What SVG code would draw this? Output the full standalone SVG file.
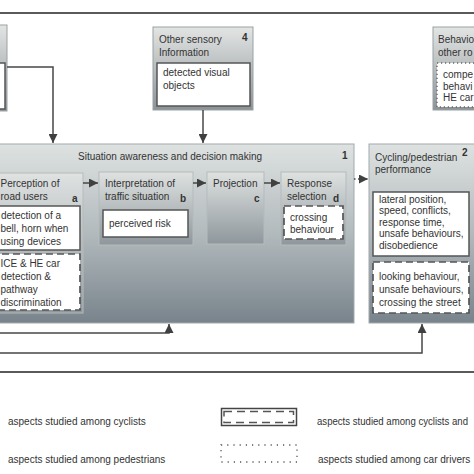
<svg xmlns="http://www.w3.org/2000/svg" width="474" height="474" viewBox="0 0 474 474">
<defs>
<linearGradient id="gBig" x1="0" y1="0" x2="0" y2="1"><stop offset="0" stop-color="#dee2e1"/><stop offset="0.5" stop-color="#b2babd"/><stop offset="1" stop-color="#78838b"/></linearGradient>
<linearGradient id="gSub" x1="0" y1="0" x2="0" y2="1"><stop offset="0" stop-color="#dfe2e1"/><stop offset="1" stop-color="#8e979c"/></linearGradient>
<linearGradient id="gTop" x1="0" y1="0" x2="0" y2="1"><stop offset="0" stop-color="#e3e5e4"/><stop offset="1" stop-color="#8b9397"/></linearGradient>
<marker id="ah" markerUnits="userSpaceOnUse" markerWidth="10" markerHeight="9" refX="9" refY="4.5" orient="auto"><path d="M0,0 L9,4.5 L0,9 z" fill="#404040"/></marker>
</defs>
<style>
text{font-family:"Liberation Sans",Arial,sans-serif;font-size:10px;fill:#333}
.num{font-weight:bold}
.big{fill:url(#gBig);stroke:#a3aaad;stroke-width:1}
.sub{fill:url(#gSub);stroke:#b5bbbc;stroke-width:1}
.top{fill:url(#gTop);stroke:#9aa1a4;stroke-width:1}
.wb{fill:#fff;stroke:#555;stroke-width:1.5}
.db{fill:#fff;stroke:#555;stroke-width:1.7;stroke-dasharray:7 4}
.ob{fill:#fff;stroke:#666;stroke-width:1.4;stroke-dasharray:1.2 2.8}
.lob{fill:none;stroke:#555;stroke-width:1.3;stroke-dasharray:1.2 5}
.con{fill:none;stroke:#474747;stroke-width:1.5}
.rule{stroke:#5a5a5a;stroke-width:2}
</style>
<rect width="474" height="474" fill="#fff"/>
<g id="frame">
<line class="rule" x1="0" y1="13" x2="474" y2="13"/>
<line class="rule" x1="0" y1="372" x2="474" y2="372"/>
</g>
<g id="node-left-top">
<rect class="top" x="-20" y="25" width="27" height="86"/>
<rect class="wb" x="-20" y="63" width="25" height="46"/>
</g>
<g id="node-4">
<rect class="top" x="153" y="27" width="100" height="83"/>
<text x="159" y="43">Other sensory</text>
<text x="159" y="55.5">Information</text>
<text class="num" x="242" y="41">4</text>
<rect class="wb" x="157" y="63" width="93" height="43"/>
<text x="163" y="76">detected visual</text>
<text x="163" y="89">objects</text>
</g>
<g id="node-right-top">
<rect class="top" x="433" y="27" width="60" height="83"/>
<text x="438" y="43">Behavio</text>
<text x="438" y="55.5">other ro</text>
<rect class="ob" x="437" y="63" width="50" height="44"/>
<text x="443" y="78">compe</text>
<text x="443" y="89.5">behavi</text>
<text x="443" y="101">HE car</text>
</g>
<g id="node-1">
<rect class="big" x="-20" y="144" width="374" height="179"/>
<text x="78" y="160">Situation awareness and decision making</text>
<text class="num" x="342" y="159">1</text>
</g>
<g id="node-a">
<rect class="sub" x="-20" y="173" width="103" height="140"/>
<text x="0.5" y="186.5">Perception of</text>
<text x="0.5" y="199.5">road users</text>
<text class="num" x="72" y="202">a</text>
<rect class="wb" x="-20" y="206" width="100" height="44"/>
<text x="1" y="218.5">detection of a</text>
<text x="0.5" y="231.5">bell, horn when</text>
<text x="0.5" y="244.5">using devices</text>
<rect class="db" x="-20" y="254" width="100" height="56"/>
<text x="0.5" y="266.5">ICE &amp; HE car</text>
<text x="1" y="279.5">detection &amp;</text>
<text x="0.5" y="292.5">pathway</text>
<text x="0.5" y="305.5">discrimination</text>
</g>
<g id="node-b">
<rect class="sub" x="99" y="172" width="94" height="73"/>
<text x="105" y="186.5">Interpretation of</text>
<text x="105" y="199.5">traffic situation</text>
<text class="num" x="180" y="202">b</text>
<rect class="wb" x="103" y="210" width="85" height="27"/>
<text x="109" y="226.5">perceived risk</text>
</g>
<g id="node-c">
<rect class="sub" x="207" y="172" width="57" height="72"/>
<text x="213" y="186.5">Projection</text>
<text class="num" x="254" y="202">c</text>
</g>
<g id="node-d">
<rect class="sub" x="281" y="172" width="65" height="73"/>
<text x="287" y="186.5">Response</text>
<text x="287" y="199.5">selection</text>
<text class="num" x="333" y="202">d</text>
<rect class="db" x="284" y="206" width="59" height="33"/>
<text x="290" y="220.5">crossing</text>
<text x="290" y="232.5">behaviour</text>
</g>
<g id="node-2">
<rect class="big" x="369" y="144" width="115" height="179"/>
<text x="375" y="160.5">Cycling/pedestrian</text>
<text class="num" x="462" y="156">2</text>
<text x="375" y="172.5">performance</text>
<rect class="wb" x="373" y="192" width="96" height="64"/>
<text x="379" y="202.5">lateral position,</text>
<text x="379" y="214">speed, conflicts,</text>
<text x="379" y="225.5">response time,</text>
<text x="379" y="237">unsafe behaviours,</text>
<text x="379" y="248.5">disobedience</text>
<rect class="db" x="373" y="262" width="96" height="51"/>
<text x="379" y="279.5">looking behaviour,</text>
<text x="379" y="292.5">unsafe behaviours,</text>
<text x="379" y="305.5">crossing the street</text>
</g>
<g id="connectors">
<path class="con" d="M7,67 H53 V143" marker-end="url(#ah)"/>
<path class="con" d="M203,110 V143" marker-end="url(#ah)"/>
<path class="con" d="M83,183 H98" marker-end="url(#ah)"/>
<path class="con" d="M193,183 H206" marker-end="url(#ah)"/>
<path class="con" d="M264,183 H280" marker-end="url(#ah)"/>
<path class="con" d="M354,179 H368" stroke-dasharray="1.5 2.5" marker-end="url(#ah)"/>
<path class="con" d="M-5,333 H169 V324" marker-end="url(#ah)"/>
<path class="con" d="M-5,353 H422 V324" marker-end="url(#ah)"/>
</g>
<g id="legend">
<text x="8" y="425">aspects studied among cyclists</text>
<text x="8" y="463">aspects studied among pedestrians</text>
<rect x="221.5" y="408.5" width="75" height="17" fill="#fff" stroke="#444" stroke-width="1.5"/>
<rect x="224" y="411.5" width="69.5" height="11" fill="none" stroke="#555" stroke-width="1.5" stroke-dasharray="8 5"/>
<text x="317" y="425" textLength="151" lengthAdjust="spacingAndGlyphs">aspects studied among cyclists and</text>
<rect class="lob" x="221" y="445" width="76" height="17"/>
<text x="318" y="463">aspects studied among car drivers</text>
</g>
</svg>
